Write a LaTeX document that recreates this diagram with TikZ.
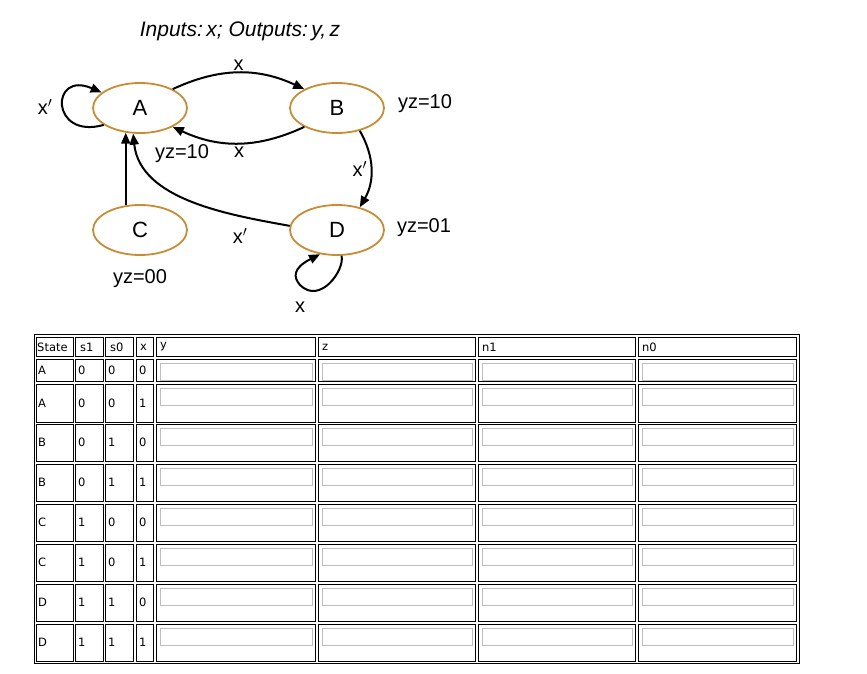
\documentclass[tikz,border=0pt]{standalone}
\usepackage{fontspec}
\setmainfont{Liberation Sans}
\newfontfamily\tabfont{DejaVu Sans}
\usetikzlibrary{shapes.geometric,arrows.meta}
\definecolor{st}{RGB}{200,140,50}
\definecolor{boxg}{RGB}{190,190,190}
\begin{document}
\begin{tikzpicture}[x=1pt,y=-1pt,
  stt/.style={ellipse,draw=st,line width=1.8pt,minimum width=94pt,minimum height=50pt,inner sep=0pt,font=\fontsize{22}{22}\selectfont},
  lbl/.style={font=\fontsize{20}{20}\selectfont,inner sep=1pt},
  arr/.style={-{Triangle[length=11pt,width=9pt]},line width=2pt},
  cell/.style={draw,line width=0.8pt},
  inbox/.style={draw=boxg,line width=1pt},
  ct/.style={font=\tabfont\fontsize{11.5}{11.5}\selectfont,anchor=west,inner sep=1pt}]
\useasboundingbox (0,0) rectangle (867,673);
\node[font=\itshape\fontsize{21}{21}\selectfont] (title) at (240,31) {Inputs:\,x; Outputs:\,y,\,z};
\node[stt] (A) at (140,108) {A};
\node[stt] (B) at (337,108) {B};
\node[stt] (C) at (140,230) {C};
\node[stt] (D) at (337,230) {D};
\draw[arr] (A.30) to[bend left=25] node[lbl,above] {x} (B.150);
\draw[arr] (B.210) to[bend left=25] (A.-30);
\node[lbl] (yzA) at (182,154) {yz=10};
\node[lbl] (xBA) at (239,152) {x};
\node[lbl] (yzB) at (425,104) {yz=10};
\draw[arr] (B.-45) to[bend left=30] node[lbl,left=2pt] {x$'$} (D.45);
\node[lbl] (yzD) at (424,228) {yz=01};
\node[lbl] (yzC) at (140,279) {yz=00};
\draw[arr] (C.120) -- (A.-120);
\draw[arr] (D.175) .. controls (230,215) and (140,200) .. (A.-105);
\node[lbl] (xDA) at (240,236) {x$'$};
\draw[arr] (A.205) .. controls (50,140) and (50,70) .. (A.158);
\node[lbl] (xA) at (45,107) {x$'$};
\draw[arr] (D.-80) .. controls (345,270) and (320,305) .. (300,285) .. controls (293,277) and (293,268) .. (D.-125);
\node[lbl] (xD) at (300,307) {x};
% table
\draw[line width=0.9pt] (34,334) rectangle (799,663);
\foreach \ya/\yb [count=\r] in {337/356,359/381,384/422,424/461,464/501,504/541,544/581,584/621,624/661}{
  \foreach \xa/\xb in {36/73,75/103,105/133,136/153,156/315,318/475,478/635,638/796}
    \draw[cell] (\xa,\ya) rectangle (\xb,\yb);
  \ifnum\r>1
  \foreach \xa/\xb in {156/315,318/475,478/635,638/796}
    \draw[inbox] (\xa+4,\ya+4) rectangle (\xb-3,\ya+21);
  \fi
}
\foreach \t/\x in {State/36,s1/79,s0/109,x/139,y/159,z/321,n1/481,n0/641}
  \node[ct] at (\x,347) {\t};
\foreach \s/\a/\b/\c/\ya/\yb in {A/0/0/0/359/381,A/0/0/1/384/422,B/0/1/0/424/461,B/0/1/1/464/501,C/1/0/0/504/541,C/1/0/1/544/581,D/1/1/0/584/621,D/1/1/1/624/661}{
  \node[ct] at (37,{(\ya+\yb)/2}) {\s};
  \node[ct] at (77,{(\ya+\yb)/2}) {\a};
  \node[ct] at (107,{(\ya+\yb)/2}) {\b};
  \node[ct] at (138,{(\ya+\yb)/2}) {\c};
}
\end{tikzpicture}
\end{document}
